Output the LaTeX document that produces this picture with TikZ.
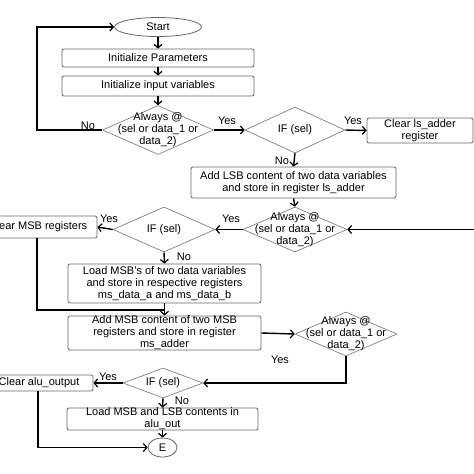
\documentclass[tikz,border=0pt]{standalone}
\usepackage{fontspec}
\setmainfont{Liberation Sans}
\usetikzlibrary{shapes.geometric,arrows.meta}
\tikzset{
  box/.style={draw=black!60, line width=0.8pt, rounded corners=2pt, fill=white, align=center, inner sep=0pt},
  dia/.style={draw=black!55, line width=0.6pt, diamond, inner sep=0pt, fill=white},
  term/.style={draw=black!60, line width=0.8pt, ellipse, inner sep=0pt, fill=white},
  dtext/.style={align=center, inner sep=0pt},
  lbl/.style={inner sep=0pt},
  conn/.style={line width=1.4pt, black, -{Straight Barb[length=3.5pt,width=8pt,line width=1.2pt]}},
  plain/.style={line width=1.4pt, black},
}
\begin{document}
\begin{tikzpicture}[x=1pt, y=-1pt, font=\fontsize{11}{12}\selectfont]
\clip (0,0) rectangle (474,474);
\fill[white] (0,0) rectangle (474,474);
% nodes
\node[term, minimum width=87pt, minimum height=19pt] (start) at (158,27) {Start};
\node[box, minimum width=192pt, minimum height=18pt] (p1) at (158,58) {Initialize Parameters};
\node[box, minimum width=192pt, minimum height=20pt] (p2) at (158,86) {Initialize input variables};
\node[dia, minimum width=111pt, minimum height=49pt] (d1) at (158,130) {};
\node[dtext] (d1t) at (d1.center) {Always @\\(sel or data\_1 or\\data\_2)};
\node[dia, minimum width=100pt, minimum height=46pt] (if1) at (295,130) {};
\node[dtext] (if1t) at (if1.center) {IF (sel)};
\node[box, minimum width=106pt, minimum height=25pt] (clr1) at (420,130.5) {Clear ls\_adder\\register};
\node[box, minimum width=205pt, minimum height=31pt] (lsb) at (293.5,182.5) {Add LSB content of two data variables\\and store in register ls\_adder};
\node[dia, minimum width=104pt, minimum height=45pt] (d2) at (295,229.5) {};
\node[dtext] (d2t) at (d2.center) {Always @\\(sel or data\_1 or\\data\_2)};
\node[dia, minimum width=102pt, minimum height=45pt] (if2) at (164,229.5) {};
\node[dtext] (if2t) at (if2.center) {IF (sel)};
\node[box, minimum width=118pt, minimum height=22pt] (clr2) at (38,227) {Clear MSB registers};
\node[box, minimum width=193pt, minimum height=39pt] (load) at (164.5,283.5) {Load MSB's of two data variables\\and store in respective registers\\ms\_data\_a and ms\_data\_b};
\node[box, minimum width=193pt, minimum height=32pt] (add) at (164.5,333) {Add MSB content of two MSB\\registers and store in register\\ms\_adder};
\node[dia, minimum width=102pt, minimum height=44pt] (d3) at (346,334) {};
\node[dtext] (d3t) at (d3.center) {Always @\\(sel or data\_1 or\\data\_2)};
\node[dia, minimum width=80pt, minimum height=30pt] (if3) at (163,383) {};
\node[dtext] (if3t) at (if3.center) {IF (sel)};
\node[box, minimum width=108pt, minimum height=16pt] (clr3) at (39,383) {Clear alu\_output};
\node[box, minimum width=191pt, minimum height=20pt] (load2) at (162.5,419) {Load MSB and LSB contents in\\alu\_out};
\node[term, minimum width=29pt, minimum height=19pt] (E) at (162.5,447.5) {E};
\coordinate (rin) at (474,229.5);
\coordinate (j1) at (164.5,310);
% connectors
\draw[conn] (start) -- (p1);
\draw[conn] (p1) -- (p2);
\draw[conn] (p2) -- (d1);
\draw[conn] (d1.west) -- (37,130) |- (start.west);
\node[lbl] (no1) at (88,126) {No};
\draw[conn] (d1.east) -- (if1.west);
\node[lbl] (yes1) at (227,121) {Yes};
\draw[conn] (if1.east) -- (clr1.west);
\node[lbl] (yes2) at (353,121) {Yes};
\draw[conn] (if1.south) -- (lsb.north);
\node[lbl] (no2) at (282,161) {No};
\draw[conn] (lsb.south) -- (d2.north);
\draw[conn] (rin) -- (d2.east);
\draw[conn] (d2.west) -- (if2.east);
\node[lbl] (yes3) at (231,219) {Yes};
\draw[conn] (if2.west) -- (clr2.east);
\node[lbl] (yes4) at (109,219) {Yes};
\draw[conn] (if2.south) -- (load.north);
\node[lbl] (no3) at (184,257) {No};
\draw[conn] (load.south) -- (add.north);
\draw[plain] (clr2.south -| 37,0) |- (j1);
\draw[conn] (add.east) -- (d3.west);
\draw[conn] (d3.south) |- (if3.east);
\node[lbl] (yes5) at (280,360) {Yes};
\draw[conn] (if3.west) -- (clr3.east);
\node[lbl] (yes6) at (108,377) {Yes};
\draw[conn] (if3.south) -- (load2.north);
\node[lbl] (no4) at (182,401) {No};
\draw[conn] (load2.south) -- (E.north);
\draw[conn] (clr3.south -| 38,0) |- (E.west);
\end{tikzpicture}
\end{document}
